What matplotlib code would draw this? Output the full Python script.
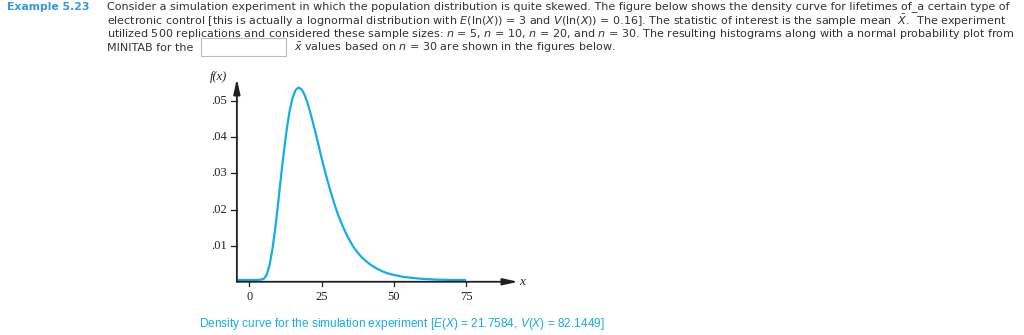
import matplotlib
matplotlib.use("Agg")
import matplotlib.pyplot as plt
from matplotlib.patches import Rectangle

# Density curve f(x)
x_vals = [-4, 0, 2, 4, 5, 6, 7, 8, 9, 10, 11, 12, 13, 14, 15, 16, 17, 18, 19, 20,
          21, 22, 23, 24, 25, 26, 27, 28, 29, 30, 31, 32, 33, 34, 35, 36, 37, 38, 39,
          40, 42, 44, 46, 48, 50, 53, 56, 60, 65, 70, 75]
f_vals = [0.0005, 0.0005, 0.0005, 0.0006, 0.0008, 0.0019, 0.0046, 0.0090, 0.0149,
          0.0219, 0.0293, 0.0363, 0.0425, 0.0475, 0.0510, 0.0531, 0.0538, 0.0534,
          0.0520, 0.0499, 0.0472, 0.0442, 0.0410, 0.0377, 0.0343, 0.0312, 0.0282,
          0.0254, 0.0227, 0.0202, 0.0180, 0.0160, 0.0142, 0.0125, 0.0111, 0.0097,
          0.0086, 0.0076, 0.0067, 0.0060, 0.0047, 0.0037, 0.0029, 0.0023, 0.0019,
          0.0014, 0.0011, 0.0008, 0.0006, 0.0005, 0.0005]

y_ticks = [0.01, 0.02, 0.03, 0.04, 0.05]
y_ticklabels = [".01", ".02", ".03", ".04", ".05"]
x_ticks = [0, 25, 50, 75]

header_lines = [
    "Consider a simulation experiment in which the population distribution is quite skewed. "
    "The figure below shows the density curve for lifetimes of_a certain type of",
    r"electronic control [this is actually a lognormal distribution with $\mathit{E}$(ln($\mathit{X}$)) = 3 "
    r"and $\mathit{V}$(ln($\mathit{X}$)) = 0.16]. The statistic of interest is the sample mean  $\bar{\mathit{X}}$.  "
    "The experiment",
    r"utilized 500 replications and considered these sample sizes: $\mathit{n}$ = 5, $\mathit{n}$ = 10, "
    r"$\mathit{n}$ = 20, and $\mathit{n}$ = 30. The resulting histograms along with a normal probability plot from",
]
last_line_a = "MINITAB for the"
last_line_b = r"$\bar{\mathit{x}}$ values based on $\mathit{n}$ = 30 are shown in the figures below."
caption = r"Density curve for the simulation experiment [$\mathit{E}$($\mathit{X}$) = 21.7584, $\mathit{V}$($\mathit{X}$) = 82.1449]"

CYAN = "#13ade9"
INK = "#231f20"
TEXT = "#333333"
BODY_SIZE = 7.98

plt.rcParams["mathtext.fontset"] = "custom"
plt.rcParams["mathtext.rm"] = "Liberation Sans"
plt.rcParams["mathtext.it"] = "Liberation Sans:italic"

fig = plt.figure(figsize=(10.24, 3.35), dpi=100)
W, H = 1024, 335

def fx(px):
    return px / W

def fy(py):
    return 1 - py / H

# header text
fig.text(fx(7), fy(7), "Example 5.23", color="#3797e3", fontsize=7.8, fontweight="bold",
         family="DejaVu Sans", va="center", ha="left")
for i, line in enumerate(header_lines):
    fig.text(fx(107), fy(7 + 13.6 * i), line, color=TEXT, fontsize=BODY_SIZE, family="DejaVu Sans",
             math_fontfamily="dejavusans", va="center", ha="left")
fig.text(fx(107), fy(47.8), last_line_a, color=TEXT, fontsize=BODY_SIZE, family="DejaVu Sans",
         va="center", ha="left")
fig.add_artist(Rectangle((fx(201), fy(56)), fx(85), 17.5 / H, transform=fig.transFigure,
                         facecolor="white", edgecolor="#bdbdbd", linewidth=0.8))
fig.text(fx(294), fy(47.8), last_line_b, color=TEXT, fontsize=BODY_SIZE, family="DejaVu Sans",
         math_fontfamily="dejavusans", va="center", ha="left")

# plot area: x -> 249.3 + 2.89*x px, y -> 281.8 - 3610*y px
ax = fig.add_axes([fx(220.4), 42.4 / H, 317.9 / W, 220.2 / H])
ax.set_xlim(-10, 100)
ax.set_ylim(-0.003, 0.058)
ax.axis("off")

ax.plot(x_vals, f_vals, color=CYAN, lw=1.6, solid_capstyle="butt", zorder=3)

x0 = -4.3
ax.annotate("", xy=(93, 0), xytext=(x0, 0),
            arrowprops=dict(arrowstyle="-|>,head_length=0.9,head_width=0.2", color=INK,
                            lw=1.3, shrinkA=0, shrinkB=0))
ax.annotate("", xy=(x0, 0.0562), xytext=(x0, 0),
            arrowprops=dict(arrowstyle="-|>,head_length=0.9,head_width=0.2", color=INK,
                            lw=1.3, shrinkA=0, shrinkB=0))

for t, lab in zip(y_ticks, y_ticklabels):
    ax.plot([x0 - 2.2, x0], [t, t], color=INK, lw=0.9)
    ax.text(x0 - 3.6, t, lab, ha="right", va="center", fontsize=9,
            family="Liberation Serif", color=INK)
for t in x_ticks:
    ax.plot([t, t], [0, -0.0013], color=INK, lw=0.9)
    ax.text(t, -0.0042, str(t), ha="center", va="center", fontsize=9,
            family="Liberation Serif", color=INK)

ax.text(94.5, 0, "x", ha="center", va="center", fontsize=9.5, family="Liberation Serif",
        style="italic", color=INK)
ax.text(-10.7, 0.0568, "f(x)", ha="center", va="center", fontsize=9,
        family="Liberation Serif", style="italic", color=INK, clip_on=False)

fig.text(fx(199), fy(324), caption, color=CYAN, fontsize=8.57,
         family=["Liberation Sans", "DejaVu Sans"], math_fontfamily="custom",
         va="center", ha="left")

fig.savefig("out.png", dpi=100, facecolor="white")
